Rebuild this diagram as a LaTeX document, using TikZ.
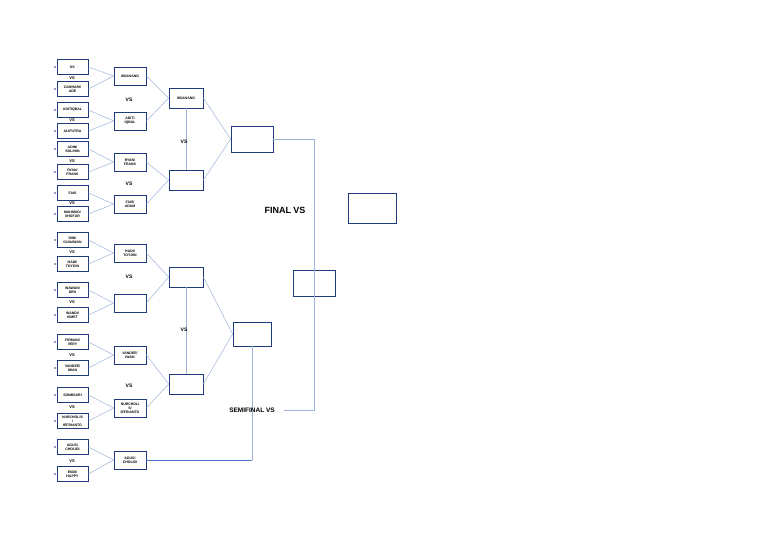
\documentclass[tikz,border=0pt]{standalone}
\usepackage{fontspec}
\setmainfont{Liberation Sans}
\definecolor{bx}{HTML}{1F3A7A}
\definecolor{ln}{HTML}{9DB3DC}
\definecolor{ln2}{HTML}{4A72C0}
\begin{document}
\begin{tikzpicture}[x=1pt,y=-1pt,
 r1/.style={draw=bx,line width=0.8pt,minimum width=31pt,minimum height=15pt,inner sep=0pt,align=center,font=\fontsize{3.5}{4}\selectfont\bfseries},
 r2/.style={r1,minimum width=32pt,minimum height=18pt},
 r3/.style={r1,minimum width=34pt,minimum height=20pt},
 vs/.style={font=\fontsize{5}{6}\selectfont\bfseries},
 c/.style={draw=ln,line width=0.5pt},
 c2/.style={draw=ln2,line width=0.6pt}]
\useasboundingbox (0,0) rectangle (768,543);
% round 1
\foreach \n/\y/\t in {a1/67/IIS/ANANG,a2/89/{ZAMHARI/\\ADE},a3/110/ADITIQBAL,a4/131/ALIPUTRA,a5/149/{ADIN/\\SOLIHIN},a6/172/{RYAN/\\FRANS},a7/193/FAIS/ADAM,a8/214/{MAHMUD/\\SHOFUR},a9/240/{DWI/\\GUNAWAN},a10/264/{HADI/\\TOYDIN},a11/290/{WAWAN/\\DEN},a12/315/{WANDI/\\ISMET},a13/342/{FIRMAN/\\VERY},a14/368/{VANDEE/\\IWAN},a15/395/SOIMDIARI,a16/421/{NURCHOLIS\\/\\IEFRIANTO},a17/447/{AGUS/\\CHOLIDI},a18/474/{ENDI/\\HAPPY}}
 {\node[r1] (\n) at (72.5,\y) {\t}; \fill[bx] (55,\y) circle (0.8pt);}
% round 2
\node[r2] (b1) at (130,76) {IIS/ANANG};
\node[r2] (b2) at (130,121) {ADITI\\IQBAL};
\node[r2] (b3) at (130,162) {RYAN/\\FRANS};
\node[r2] (b4) at (130,204) {FAIS/\\ADAM};
\node[r2] (b5) at (130,253) {HADI/\\TOYDIN};
\node[r2] (b6) at (130,303) {};
\node[r2] (b7) at (130,355) {VANDEE/\\IWAN};
\node[r2] (b8) at (130,408) {NURCHOLI\\S/\\IEFRIANTO};
\node[r2] (b9) at (130,460) {AGUS/\\CHOLIDI};
% round 3
\node[r3] (c1) at (186,98) {IIS/ANANG};
\node[r3] (c2) at (186,180) {};
\node[r3] (c3) at (186,277) {};
\node[r3] (c4) at (186,384) {};
% round 4
\node[r1,minimum width=42pt,minimum height=26pt] (d1) at (252,139) {};
\node[r1,minimum width=38pt,minimum height=24pt] (d2) at (252,334) {};
\node[r1,minimum width=42pt,minimum height=26pt] (s) at (314,283) {};
\node[r1,minimum width=48pt,minimum height=30pt] (f) at (372,208) {};
% connectors
\foreach \p/\q/\r in {a1/a2/b1,a3/a4/b2,a5/a6/b3,a7/a8/b4,a9/a10/b5,a11/a12/b6,a13/a14/b7,a15/a16/b8,a17/a18/b9}
 {\path[c] (\p.east) -- (\r.west) -- (\q.east);}
\foreach \p/\q/\r in {b1/b2/c1,b3/b4/c2,b5/b6/c3,b7/b8/c4}
 {\path[c] (\p.east) -- (\r.west) -- (\q.east);}
\path[c] (c1.east) -- (d1.west) -- (c2.east);
\path[c] (c3.east) -- (d2.west) -- (c4.east);
\path[c] (c1.south) -- (c2.north);
\path[c] (c3.south) -- (c4.north);
\coordinate (k1) at (314,139);
\coordinate (k2) at (314,410);
\coordinate (k3) at (284,410);
\path[c] (d1.east) -- (k1) -- (k2) -- (k3);
\coordinate (m1) at (252,460);
\path[c2] (b9.east) -- (m1);
\path[c] (m1) -- (d2.south);
% vs labels
\foreach \y in {78,120,161,203,252,302,355,407,461} \node[vs,font=\fontsize{4}{5}\selectfont\bfseries] at (72,\y) {VS};
\foreach \y in {100,184,277,386} \node[vs] at (129,\y) {VS};
\foreach \y in {142,330} \node[vs] at (184,\y) {VS};
\node[font=\fontsize{9}{10}\selectfont\bfseries] (fl) at (285,210) {FINAL VS};
\node[font=\fontsize{6.5}{8}\selectfont\bfseries] (sl) at (252,410) {SEMIFINAL VS};
\end{tikzpicture}
\end{document}
